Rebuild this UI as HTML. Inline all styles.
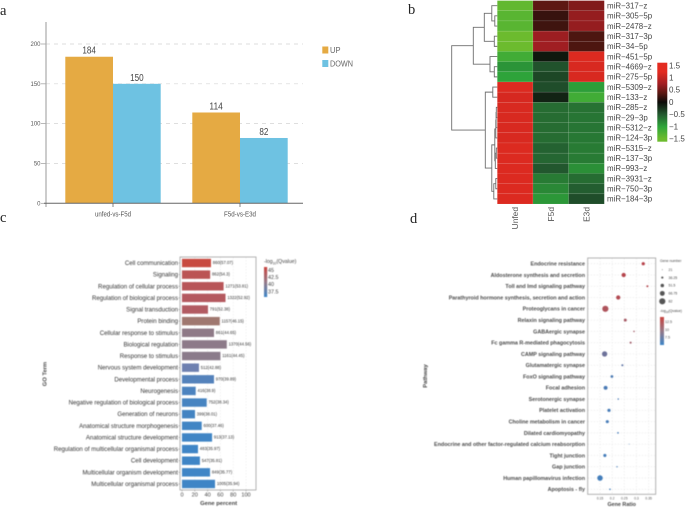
<!DOCTYPE html>
<html lang="en">
<head>
<meta charset="utf-8">
<title>miRNA differential expression figure</title>
<style>
html,body{margin:0;padding:0;background:#fff;width:685px;height:507px;overflow:hidden}
svg{display:block;font-family:"Liberation Sans",sans-serif}
.soft{filter:blur(.28px)}
.softer{filter:blur(.42px)}
</style>
</head>
<body>
<svg id="fig" xmlns="http://www.w3.org/2000/svg" width="685" height="507" viewBox="0 0 685 507">
<g font-family="Liberation Serif, serif" font-size="14.5" fill="#222">
<text x="0" y="15">a</text>
<text x="408" y="14">b</text>
<text x="0" y="222">c</text>
<text x="410" y="223">d</text>
</g>
<g id="panelA" class="soft"></g>
<g id="panelB" class="soft"></g>
<g id="panelC" class="softer"></g>
<g id="panelD" class="softer"></g>
<defs>
<linearGradient id="heatGrad" x1="0" y1="0" x2="0" y2="1">
<stop offset="0" stop-color="#e32b20"/><stop offset=".115" stop-color="#e32b20"/><stop offset=".27" stop-color="#a01e22"/><stop offset=".385" stop-color="#5a1812"/><stop offset=".5" stop-color="#0b0b08"/><stop offset=".655" stop-color="#235a30"/><stop offset=".81" stop-color="#2ea63a"/><stop offset=".96" stop-color="#6cbb2e"/><stop offset="1" stop-color="#6cbb2e"/>
</linearGradient>
<linearGradient id="qGrad" x1="0" y1="0" x2="0" y2="1">
<stop offset="0" stop-color="#c9443f"/><stop offset=".5" stop-color="#967886"/><stop offset="1" stop-color="#3d86c8"/>
</linearGradient>
</defs>
</svg>
<script>
/* ---------- panel a data ---------- */
const barCategories = ['unfed-vs-F5d', 'F5d-vs-E3d'];
const barUp = [184, 114];
const barDown = [150, 82];
const barTicks = [0, 50, 100, 150, 200];

/* ---------- panel b data ---------- */
const heatRows = ['miR−317−z','miR−305−5p','miR−2478−z','miR−317−3p','miR−34−5p','miR−451−5p','miR−4669−z','miR−275−5p','miR−5309−z','miR−133−z','miR−285−z','miR−29−3p','miR−5312−z','miR−124−3p','miR−5315−z','miR−137−3p','miR−993−z','miR−3931−z','miR−750−3p','miR−184−3p'];
const heatCols = ['Unfed', 'F5d', 'E3d'];
const heatUnfed = [-1.42,-1.35,-1.35,-1.5,-1.5,-1.15,-0.88,-0.98,1.45,1.4,1.42,1.42,1.42,1.42,1.45,1.45,1.45,1.45,1.45,1.45];
const heatF5d = [0.52,0.28,0.33,0.97,1.0,-0.08,-0.45,-0.38,-0.42,-0.15,-0.62,-0.62,-0.62,-0.62,-0.55,-0.58,-0.48,-0.72,-0.8,-0.9];
const heatE3d = [0.78,0.92,0.92,0.42,0.42,1.45,1.42,1.42,-0.95,-1.15,-0.66,-0.68,-0.68,-0.7,-0.72,-0.72,-0.85,-0.62,-0.52,-0.42];
const heatTicks = [1.5, 1, 0.5, 0, -0.5, -1, -1.5];
/* dendrogram merges: an id below 20 is a row, 20+n is merge n */
const dendroLeft = [1,0,3,21,6,5,23,8,10,28,13,14,31,17,33,30,35,27,26];
const dendroRight = [2,20,4,22,7,24,25,9,11,12,29,15,16,18,19,32,34,36,37];
const dendroHeight = [2.5,5.5,3,13,3,7.3,24,4.5,1,1.2,1.5,1,2,1.5,3.5,2.5,5.5,12,45.6];

/* ---------- panel c data ---------- */
const goTerms = ['Cell communication','Signaling','Regulation of cellular process','Regulation of biological process','Signal transduction','Protein binding','Cellular response to stimulus','Biological regulation','Response to stimulus','Nervous system development','Developmental process','Neurogenesis','Negative regulation of biological process','Generation of neurons','Anatomical structure morphogenesis','Anatomical structure development','Regulation of multicellular organismal process','Cell development','Multicellular organism development','Multicellular organismal process'];
const goPercent = [45.3,44,65,68,40.6,59,50,70,60,26.5,50,21.4,38.6,20.3,30.8,47,25,28,43.8,51.6];
const goGenes = [860,862,1271,1322,791,1157,861,1370,1161,512,970,416,752,399,600,913,483,547,849,1005];
const goQ = [57.07,54.3,53.81,52.92,52.38,46.15,44.65,44.56,44.45,42.88,39.89,38.9,38.34,38.01,37.46,37.13,35.97,35.81,35.77,35.94];
const goTicks = [0,20,40,60,80,100];
const goLegendLabels = [45,42.5,40,37.5];

/* ---------- panel d data ---------- */
const pathTerms = ['Endocrine resistance','Aldosterone synthesis and secretion','Toll and Imd signaling pathway','Parathyroid hormone synthesis, secretion and action','Proteoglycans in cancer','Relaxin signaling pathway','GABAergic synapse','Fc gamma R-mediated phagocytosis','CAMP signaling pathway','Glutamatergic synapse','FoxO signaling pathway','Focal adhesion','Serotonergic synapse','Platelet activation','Choline metabolism in cancer','Dilated cardiomyopathy','Endocrine and other factor-regulated calcium reabsorption','Tight junction','Gap junction','Human papillomavirus infection','Apoptosis - fly'];
const pathRatio = [0.328,0.2475,0.345,0.225,0.172,0.254,0.29,0.276,0.169,0.242,0.199,0.173,0.225,0.187,0.18,0.224,0.27,0.17,0.22,0.15,0.191];
const pathGenes = [48,60,34,60,82,45,30,36,72,35,43,56,29,48,47,31,21,47,27,74,31];
const pathQ = [12.8,12.6,12.6,12.3,11.8,11.2,10.9,10.7,8.8,8.4,7.8,7.7,7.6,7.5,7.5,7.5,7.4,7.4,7.4,7.3,7.3];
const pathTicks = [0.15,0.2,0.25,0.3,0.35];
const sizeLegend = [21,36.25,51.5,66.75,82];
const qLegendLabels = [12.5,10,7.5];

const NS = 'http://www.w3.org/2000/svg';
function el(tag, attrs, parent, txt){
  const e = document.createElementNS(NS, tag);
  for (const k in attrs) e.setAttribute(k, attrs[k]);
  if (txt !== undefined) e.textContent = txt;
  parent.appendChild(e);
  return e;
}
function hex(c){ return [1,3,5].map(i => parseInt(c.substr(i,2),16)); }
function ramp(v, xs, cs){
  if (v <= xs[0]) return cs[0];
  for (let i = 1; i < xs.length; i++) {
    if (v <= xs[i]) {
      const t = (v - xs[i-1]) / (xs[i] - xs[i-1]), a = hex(cs[i-1]), b = hex(cs[i]);
      return 'rgb(' + a.map((p,j) => Math.round(p + (b[j]-p)*t)).join(',') + ')';
    }
  }
  return cs[cs.length-1];
}

/* ---------- panel a ---------- */
(function(){
  const g = document.getElementById('panelA');
  const y = v => 203.3 - v * 0.7965;
  const bandX = i => 113 + i * 127;
  const barW = 47.7;
  barTicks.forEach(t => {
    if (t > 0) {
      const grid = el('line', {x1:46, x2:303, y1:y(t), y2:y(t), stroke:'#d4d4d4', 'stroke-width':.7, 'stroke-dasharray':'4 4'}, g);
      
      
    }
    const tick = el('line', {x1:41, x2:46, y1:y(t), y2:y(t), stroke:'#999', 'stroke-width':.7}, g);
    
    
    const lab = el('text', {x:40.5, y:y(t)+2, 'text-anchor':'end', 'font-size':6, fill:'#555'}, g, t);
    
    
  });
  barCategories.forEach((c, i) => {
    [[barUp[i], -barW, '#e5aa43', 'up'], [barDown[i], 0, '#6ec2e2', 'down']].forEach(s => {
      const bar = el('rect', {x:bandX(i)+s[1], y:y(s[0]), width:barW, height:y(0)-y(s[0]), fill:s[2]}, g);
      
      
      const val = el('text', {x:bandX(i)+s[1]+barW/2, y:y(s[0])-3, 'text-anchor':'middle', 'font-size':10, fill:'#444', textLength:13.5, lengthAdjust:'spacingAndGlyphs'}, g, s[0]);
      if (s[0] < 100) val.setAttribute('textLength', 9);
      
      
    });
    const xt = el('line', {x1:bandX(i), x2:bandX(i), y1:203.3, y2:207, stroke:'#666', 'stroke-width':.8}, g);
    
    
    const xl = el('text', {x:bandX(i), y:216.5, 'text-anchor':'middle', 'font-size':7, fill:'#555', textLength:i ? 32 : 36, lengthAdjust:'spacingAndGlyphs'}, g, c);
    
    
  });
  const ya = el('line', {x1:46, x2:46, y1:22, y2:207, stroke:'#aaa', 'stroke-width':1.2}, g);
  
  
  const xa = el('line', {x1:44, x2:303, y1:203.3, y2:203.3, stroke:'#666', 'stroke-width':1}, g);
  
  
  [['UP','#e5aa43',46.5],['DOWN','#6ec2e2',60]].forEach(l => {
    const sw = el('rect', {x:322.3, y:l[2], width:6, height:7, fill:l[1]}, g);
    
    
    const tx = el('text', {x:330, y:l[2]+6.5, 'font-size':8, fill:'#666', textLength:l[0]==='UP'?10.5:23, lengthAdjust:'spacingAndGlyphs'}, g, l[0]);
    
    
  });
})();

/* ---------- panel b ---------- */
(function(){
  const g = document.getElementById('panelB');
  const rowH = 10.17, top = 0.6, cellW = 35.67, left = 497.3;
  const rowY = i => top + i * rowH;
  const heatXs = [-1.5,-1,-0.5,0,0.5,1,1.5];
  const heatCs = ['#6cbb2e','#2ea63a','#235a30','#0b0b08','#5a1812','#a01e22','#e32b20'];
  const series = [heatUnfed, heatF5d, heatE3d];
  series.forEach((vals, c) => {
    vals.forEach((v, r) => {
      const cell = el('rect', {x:left + c*cellW, y:rowY(r), width:cellW, height:rowH, fill:ramp(v, heatXs, heatCs), stroke:'rgba(255,255,255,.16)', 'stroke-width':.5}, g);
      
      
    });
    const cl = el('text', {transform:'translate(' + (left + (c+.5)*cellW + 3) + ',207) rotate(-90)', 'text-anchor':'end', 'font-size':8.4, fill:'#555'}, g, heatCols[c]);
    
    
  });
  heatRows.forEach((r, i) => {
    const t = el('text', {x:607, y:rowY(i)+rowH/2+2.8, 'font-size':7.9, fill:'#444'}, g, r);
    
    
  });
  /* dendrogram */
  const nodeY = [], nodeH = [];
  const ny = id => id < 20 ? rowY(id) + rowH/2 : nodeY[id-20];
  const nh = id => id < 20 ? 0 : nodeH[id-20];
  const hx = h => left - h;
  dendroHeight.forEach((h, i) => {
    const a = dendroLeft[i], b = dendroRight[i];
    nodeY[i] = (ny(a) + ny(b)) / 2;
    nodeH[i] = h;
    const p = el('path', {d:'M' + hx(nh(a)) + ' ' + ny(a) + 'H' + hx(h) + 'V' + ny(b) + 'H' + hx(nh(b)), fill:'none', stroke:'#6e6e6e', 'stroke-width':.9}, g);
    
    
  });
  const cb = el('rect', {x:657.3, y:62.7, width:10, height:79, fill:'url(#heatGrad)'}, g);
  
  
  heatTicks.forEach(t => {
    const y = 102 - t * 24.4;
    const lab = el('text', {x:669, y:y+2.9, 'font-size':8, fill:'#444'}, g, t < 0 ? '−' + Math.abs(t) : t);
    
    
  });
})();

/* ---------- panel c ---------- */
(function(){
  const g = document.getElementById('panelC');
  const x = v => 182 + v * 0.64;
  const y = i => 263 + i * 11.63;
  const qXs = [37,38,42.88,44.6,46.15,52.5,57];
  const qCs = ['#3f85c6','#4484c2','#6e80b0','#8e7a88','#a07870','#b25a62','#c84a40'];
  goTicks.forEach(t => {
    const gl = el('line', {x1:x(t), x2:x(t), y1:257, y2:490, stroke:'#e6e6e6', 'stroke-width':.5, 'stroke-dasharray':'1.5 1.5'}, g);
    
    
    const tk = el('line', {x1:x(t), x2:x(t), y1:490, y2:491.5, stroke:'#888', 'stroke-width':.5}, g);
    
    
    const tl = el('text', {x:x(t), y:496.5, 'text-anchor':'middle', 'font-size':5.6, fill:'#444'}, g, t);
    
    
  });
  goTerms.forEach((term, i) => {
    const b = el('rect', {x:x(0), y:y(i)-4.2, width:x(goPercent[i])-x(0), height:8.4, fill:ramp(goQ[i], qXs, qCs)}, g);
    
    
    const t = el('text', {x:178, y:y(i)+2, 'text-anchor':'end', 'font-size':6.1, fill:'#333'}, g, term);
    
    
    const tk = el('line', {x1:178.5, x2:180, y1:y(i), y2:y(i), stroke:'#888', 'stroke-width':.5}, g);
    
    
    const v = el('text', {x:x(goPercent[i])+1.8, y:y(i)+1.1, 'font-size':4.2, fill:'#333'}, g, goGenes[i] + '(' + goQ[i] + ')');
    
    
  });
  const box = el('rect', {x:180, y:257, width:76, height:233, fill:'none', stroke:'#a0a0a0', 'stroke-width':.8}, g);
  
  
  const xt = el('text', {x:218.7, y:505, 'text-anchor':'middle', 'font-size':5.8, 'font-weight':'bold', fill:'#444'}, g, 'Gene percent');
  
  
  const yt = el('text', {transform:'translate(46.5,374) rotate(-90)', 'text-anchor':'middle', 'font-size':5.8, 'font-weight':'bold', fill:'#444'}, g, 'GO Term');
  
  
  const lt = el('text', {x:264, y:263, 'font-size':5.2, fill:'#444'}, g);
  
  
  lt.innerHTML = '-log<tspan font-size="3.4" dy="1.3">10</tspan><tspan dy="-1.3">(Qvalue)</tspan>';
  const cb = el('rect', {x:264, y:267, width:3.2, height:30, fill:'url(#qGrad)'}, g);
  
  
  goLegendLabels.forEach((l, i) => {
    const t = el('text', {x:268, y:272 + i * 7.1, 'font-size':5.4, fill:'#444'}, g, l);
    
    
  });
})();

/* ---------- panel d ---------- */
(function(){
  const g = document.getElementById('panelD');
  const x = v => 600 + (v - 0.15) * 243;
  const y = i => 263.7 + i * 11.28;
  const r = n => 0.4 + (n - 21) / 61 * 2.7;
  const qXs = [7,8,10,12,13];
  const qCs = ['#3f80c0','#4f78b0','#9a6a78','#b05058','#b83c44'];
  pathTicks.forEach(t => {
    const gl = el('line', {x1:x(t), x2:x(t), y1:258, y2:494.3, stroke:'#e4e4e4', 'stroke-width':.5, 'stroke-dasharray':'1.5 1.5'}, g);
    
    
    const tl = el('text', {x:x(t), y:499.5, 'text-anchor':'middle', 'font-size':3.4, fill:'#555'}, g, t);
    
    
  });
  pathTerms.forEach((term, i) => {
    const gl = el('line', {x1:587.7, x2:655.7, y1:y(i), y2:y(i), stroke:'#e4e4e4', 'stroke-width':.5, 'stroke-dasharray':'1.5 1.5'}, g);
    
    
    const t = el('text', {x:585, y:y(i)+1.9, 'text-anchor':'end', 'font-size':5.4, 'font-weight':'bold', fill:'#4a4a4a'}, g, term);
    
    
    const c = el('circle', {cx:x(pathRatio[i]), cy:y(i), r:r(pathGenes[i]), fill:ramp(pathQ[i], qXs, qCs)}, g);
    
    
  });
  const box = el('rect', {x:587.7, y:258, width:68, height:236.3, fill:'none', stroke:'#a0a0a0', 'stroke-width':.8}, g);
  
  
  const xt = el('text', {x:621.7, y:506, 'text-anchor':'middle', 'font-size':5.4, 'font-weight':'bold', fill:'#444'}, g, 'Gene Ratio');
  
  
  const yt = el('text', {transform:'translate(427,376) rotate(-90)', 'text-anchor':'middle', 'font-size':5.8, 'font-weight':'bold', fill:'#444'}, g, 'Pathway');
  
  
  const st = el('text', {x:660, y:262, 'font-size':3.5, fill:'#444'}, g, 'Gene number');
  
  
  sizeLegend.forEach((n, i) => {
    const ly = 269.7 + i * 7.9;
    const c = el('circle', {cx:662.3, cy:ly, r:r(n), fill:'#555'}, g);
    
    
    const t = el('text', {x:668.5, y:ly+1.2, 'font-size':3.5, fill:'#444'}, g, n);
    
    
  });
  const lt = el('text', {x:660, y:312, 'font-size':3.5, fill:'#444'}, g);
  
  
  lt.innerHTML = '-log<tspan font-size="2.4" dy=".8">10</tspan><tspan dy="-.8">(Qvalue)</tspan>';
  const cb = el('rect', {x:660, y:317, width:4, height:28, fill:'url(#qGrad)'}, g);
  
  
  qLegendLabels.forEach((l, i) => {
    const t = el('text', {x:665, y:323.2 + i * 7.75, 'font-size':3.6, fill:'#444'}, g, l);
    
    
  });
})();
</script>
</body>
</html>
